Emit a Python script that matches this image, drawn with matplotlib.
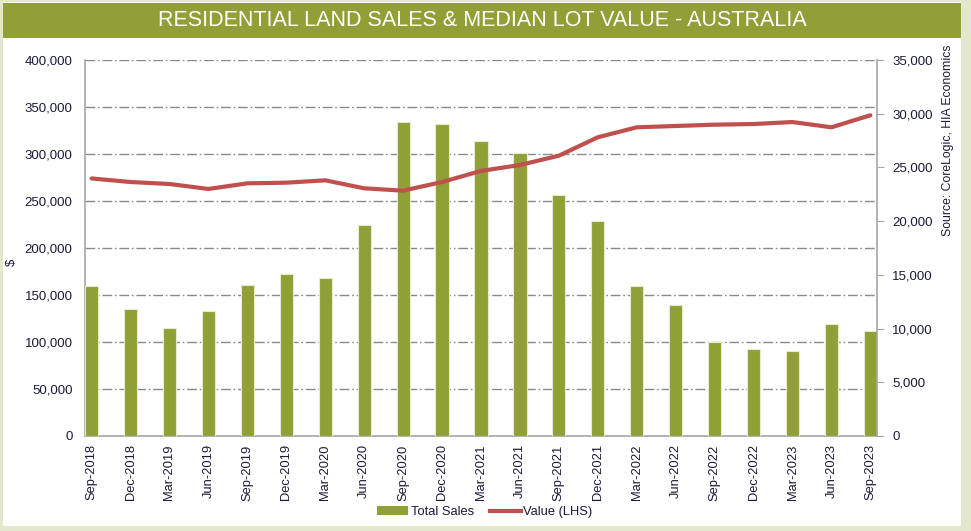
import matplotlib
matplotlib.use("Agg")
import matplotlib.pyplot as plt
from matplotlib.patches import Rectangle
from matplotlib.lines import Line2D
from matplotlib.patches import Patch
from matplotlib.ticker import FuncFormatter

quarters = ["Sep-2018", "Dec-2018", "Mar-2019", "Jun-2019", "Sep-2019", "Dec-2019",
            "Mar-2020", "Jun-2020", "Sep-2020", "Dec-2020", "Mar-2021", "Jun-2021",
            "Sep-2021", "Dec-2021", "Mar-2022", "Jun-2022", "Sep-2022", "Dec-2022",
            "Mar-2023", "Jun-2023", "Sep-2023"]
total_sales = [14000, 11800, 10050, 11600, 14070, 15060, 14700, 19620, 29200, 29000,
               27500, 26360, 22430, 19970, 13990, 12230, 8770, 8080, 7900, 10420, 9800]
lot_value = [274000, 270200, 268100, 262800, 268800, 269500, 272000, 263500, 261000,
             270200, 282000, 288300, 298200, 317800, 328400, 329800, 331200, 331900,
             334000, 328400, 341200]
left_ticks = [0, 50000, 100000, 150000, 200000, 250000, 300000, 350000, 400000]
right_ticks = [0, 5000, 10000, 15000, 20000, 25000, 30000, 35000]

plt.rcParams['font.family'] = ['Liberation Sans', 'DejaVu Sans']

W, H = 971, 531
fig = plt.figure(figsize=(W / 100, H / 100), dpi=100, facecolor='#e3e8cd')

def fx(px):
    return px / W

def fy(py):
    return 1 - py / H

# white panel
fig.patches.append(Rectangle((fx(3), fy(526)), fx(961) - fx(3), fy(2) - fy(526),
                             transform=fig.transFigure, facecolor='white', edgecolor='none', zorder=-5))
# title bar
fig.patches.append(Rectangle((fx(3), fy(38)), fx(961) - fx(3), fy(3) - fy(38),
                             transform=fig.transFigure, facecolor='#919f37', edgecolor='none', zorder=-4))
fig.text(fx(482), fy(20), "RESIDENTIAL LAND SALES & MEDIAN LOT VALUE - AUSTRALIA",
         color='white', fontsize=15.5, ha='center', va='center')

left, right, top, bottom = 85, 877, 60, 436
rect = [fx(left), fy(bottom), fx(right) - fx(left), fy(top) - fy(bottom)]

tick_color = '#1a1a3a'
spine_color = '#a6a6a6'

x = list(range(len(quarters)))

# base axis: left scale with grid
ax = fig.add_axes(rect)
ax.set_facecolor('white')
ax.set_xlim(-0.17, len(quarters) - 1 + 0.17)
ax.set_ylim(0, 400000)
ax.set_yticks(left_ticks)
ax.yaxis.set_major_formatter(FuncFormatter(lambda v, p: f"{int(v):,}"))
ax.grid(axis='y', color='#8a8a8a', linewidth=1.0, dashes=(7, 2, 1.2, 2))
ax.set_axisbelow(True)
ax.set_xticks(x)
ax.set_xticklabels(quarters, rotation=90, fontsize=9.3, color=tick_color)
ax.tick_params(axis='y', length=0, labelsize=9.5, labelcolor=tick_color, pad=9)
ax.tick_params(axis='x', length=0, pad=6)
for s in ['top', 'right']:
    ax.spines[s].set_visible(False)
for s in ['left', 'bottom']:
    ax.spines[s].set_color(spine_color)
    ax.spines[s].set_linewidth(1.2)

# bars on right axis
ax2 = ax.twinx()
ax2.set_ylim(0, 35000)
ax2.set_yticks(right_ticks)
ax2.yaxis.set_major_formatter(FuncFormatter(lambda v, p: f"{int(v):,}"))
ax2.bar(x, total_sales, width=0.34, color='#919f37', edgecolor='#e6ebcf', linewidth=0.8)
ax2.tick_params(axis='y', direction='out', length=5, color=spine_color, labelsize=9.5,
                labelcolor=tick_color, pad=6)
for s in ['top', 'left', 'bottom']:
    ax2.spines[s].set_visible(False)
ax2.spines['right'].set_color(spine_color)
ax2.spines['right'].set_linewidth(1.2)
ax2.patch.set_visible(False)

# line on left scale, on top
ax3 = ax.twinx()
ax3.set_ylim(ax.get_ylim())
ax3.plot(x, lot_value, color='#c0504d', linewidth=3, solid_capstyle='round')
ax3.set_yticks([])
for s in ax3.spines.values():
    s.set_visible(False)
ax3.patch.set_visible(False)

fig.text(fx(12), fy(262), "$", rotation=90, fontsize=9.5, color=tick_color,
         ha='center', va='center')
fig.text(fx(948), fy(44), "Source: CoreLogic, HIA Economics", rotation=90,
         fontsize=8.8, color=tick_color, ha='center', va='top')

handles = [Patch(facecolor='#919f37', edgecolor='none', label='Total Sales'),
           Line2D([0], [0], color='#c0504d', linewidth=3, label='Value (LHS)')]
fig.legend(handles=handles, loc='center', bbox_to_anchor=(fx(485), fy(512)), ncol=2,
           frameon=False, fontsize=9.3, handlelength=2.4, handleheight=0.6,
           handletextpad=0.2, columnspacing=1.2, labelcolor=tick_color)

fig.savefig("out.png", dpi=100, facecolor=fig.get_facecolor())
